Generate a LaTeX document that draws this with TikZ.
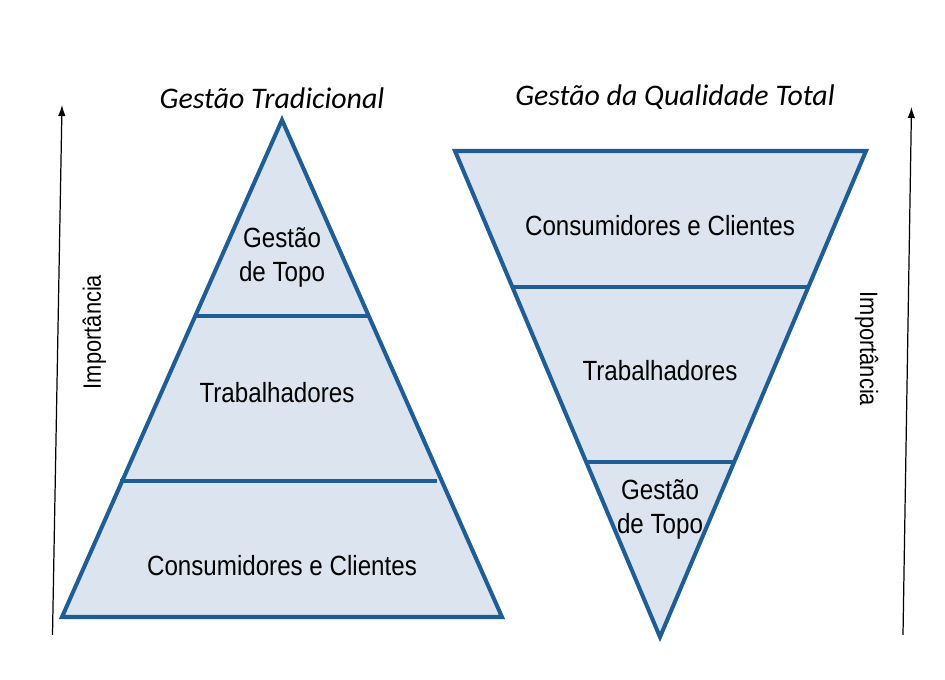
\documentclass[tikz,border=0pt]{standalone}
\usepackage{fontspec}
\setmainfont{Liberation Sans}
\newfontfamily\titlefont{Carlito}
\usepackage{tikz}
\usetikzlibrary{arrows.meta}

\definecolor{layerfill}{RGB}{220,228,240}
\definecolor{layerline}{RGB}{31,93,150}

% texto ligeiramente estreito, como no original
\newcommand{\narrowtext}[1]{\scalebox{0.87}[1]{\begin{tabular}{@{}c@{}}#1\end{tabular}}}

\tikzset{
    layer/.style={fill=layerfill, draw=layerline, line width=2.3pt, line join=miter},
    divider/.style={draw=layerline, line width=2.3pt},
    label/.style={font=\fontsize{15.8}{19.3}\selectfont, inner sep=0pt, text=black},
    heading/.style={font=\titlefont\itshape\fontsize{17}{20}\selectfont},
    axis/.style={-{Latex[length=2.2mm, width=1.5mm]}, line width=0.7pt}
}

\begin{document}
\begin{tikzpicture}
        \useasboundingbox (0, 0) rectangle (18.9, 13.6);

        % eixos de importancia
        \coordinate (la0) at (1.05, 0.9);
        \coordinate (la1) at (1.24, 11.5);
        \coordinate (ra0) at (18.06, 0.9);
        \coordinate (ra1) at (18.23, 11.46);
        \draw[axis] (la0) -- (la1);
        \draw[axis] (ra0) -- (ra1);
        \node[label, rotate=90, font=\fontsize{14.3}{17}\selectfont] (impl) at (1.9, 6.96) {\narrowtext{Importância}};
        \node[label, rotate=-90, font=\fontsize{14.3}{17}\selectfont] (impr) at (17.32, 6.62) {\narrowtext{Importância}};

        % piramide tradicional
        \coordinate (ltop) at (5.64, 11.2);
        \coordinate (lbl) at (1.24, 1.26);
        \coordinate (lbr) at (10.04, 1.26);
        \filldraw[layer] (ltop) -- (lbr) -- (lbl) -- cycle;
        \coordinate (l1a) at (3.9, 7.28);
        \coordinate (l1b) at (7.38, 7.28);
        \coordinate (l2a) at (2.4, 3.98);
        \coordinate (l2b) at (8.74, 3.98);
        \draw[divider] (l1a) -- (l1b);
        \draw[divider] (l2a) -- (l2b);
        \node[heading] (tradicional) at (5.44, 11.64) {Gestão Tradicional};
        \node[label] (ltopo) at (5.64, 8.44) {\narrowtext{Gestão\\de Topo}};
        \node[label] (ltrab) at (5.54, 5.68) {\narrowtext{Trabalhadores}};
        \node[label] (lcons) at (5.64, 2.22) {\narrowtext{Consumidores e Clientes}};

        % piramide invertida
        \coordinate (rtl) at (9.1, 10.58);
        \coordinate (rtr) at (17.32, 10.58);
        \coordinate (rbot) at (13.2, 0.86);
        \filldraw[layer] (rtl) -- (rtr) -- (rbot) -- cycle;
        \coordinate (r1a) at (10.26, 7.86);
        \coordinate (r1b) at (16.16, 7.86);
        \coordinate (r2a) at (11.74, 4.36);
        \coordinate (r2b) at (14.7, 4.36);
        \draw[divider] (r1a) -- (r1b);
        \draw[divider] (r2a) -- (r2b);
        \node[heading] (qualidade) at (13.5, 11.66) {Gestão da Qualidade Total};
        \node[label] (rcons) at (13.2, 9.02) {\narrowtext{Consumidores e Clientes}};
        \node[label] (rtrab) at (13.2, 6.12) {\narrowtext{Trabalhadores}};
        \node[label] (rtopo) at (13.2, 3.4) {\narrowtext{Gestão\\de Topo}};
    \end{tikzpicture}
\end{document}
